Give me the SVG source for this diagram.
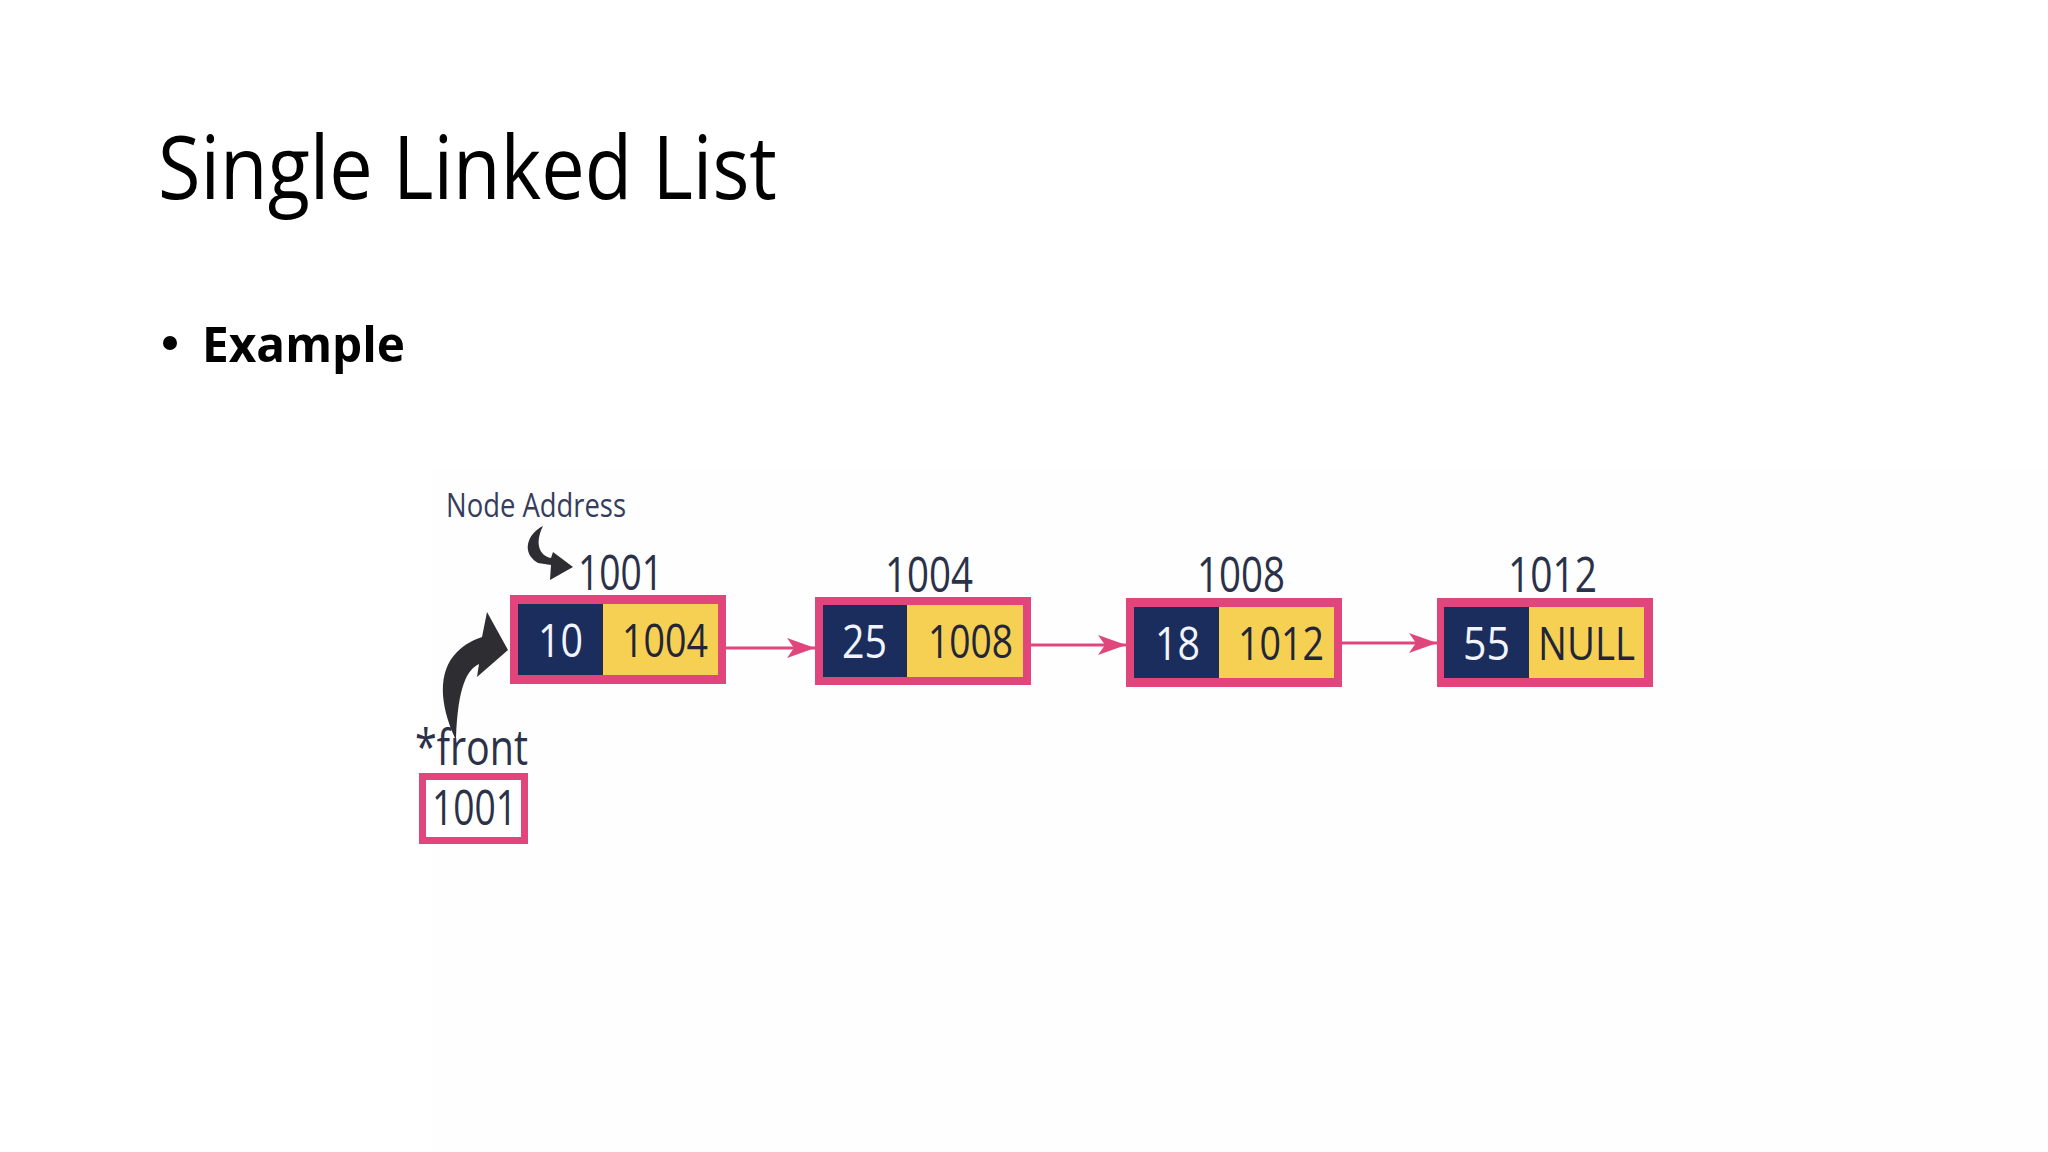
<svg xmlns="http://www.w3.org/2000/svg" width="2048" height="1152" viewBox="0 0 2048 1152">
<defs>
<style>
.t{font-family:"Open Sans","Liberation Sans",sans-serif;}
.lbl{font-family:"Open Sans","Liberation Sans",sans-serif;font-size:49px;fill:#2b3148;}
.in{font-family:"Open Sans","Liberation Sans",sans-serif;font-size:46px;}
.w{fill:#f2f5ff;}
.d{fill:#22253a;}
.pink{fill:#e0467c;}
.navy{fill:#1b2d5c;}
.yel{fill:#f6d052;}
.link{stroke:#e0467c;stroke-width:3;fill:none;}
.blk{fill:#2e2e32;}
</style>
<marker id="ah" markerUnits="userSpaceOnUse" markerWidth="30" markerHeight="22" refX="28" refY="11" orient="auto">
<path d="M0,1 L28,11 L0,21 L7,11 Z" fill="#e0467c"/>
</marker>
</defs>
<rect width="2048" height="1152" fill="#ffffff"/>
<rect x="432" y="470" width="1616" height="682" fill="#fefefe"/>

<g id="title">
<text class="t" x="158" y="199" font-size="87" fill="#000" textLength="619" lengthAdjust="spacingAndGlyphs">Single Linked List</text>
</g>
<g id="bullet">
<circle cx="170" cy="343" r="7" fill="#000"/>
<text class="t" x="202" y="362" font-size="49" font-weight="bold" fill="#000" textLength="203" lengthAdjust="spacingAndGlyphs">Example</text>
</g>

<g id="connectors">
<line class="link" x1="726" y1="648" x2="815" y2="648" marker-end="url(#ah)"/>
<line class="link" x1="1031" y1="645" x2="1126" y2="645" marker-end="url(#ah)"/>
<line class="link" x1="1342" y1="643" x2="1437" y2="643" marker-end="url(#ah)"/>
<path id="addr-arrow" class="blk" d="M543,526 C527,534 521,553 538,563 L551,565 L550,580 L573,567 L553,552 L551,558 C540,556 534,544 543,526 Z"/>
<path id="front-arrow" class="blk" d="M455,738 C440,705 437,672 457,652 C465,644 473,640 482,637 L487,612 L508,650 L477,677 L479,664 C467,670 458,686 456,738 Z"/>
</g>

<g id="node-address">
<text class="t" x="446" y="517" font-size="32" fill="#363d5c" textLength="180" lengthAdjust="spacingAndGlyphs">Node Address</text>
</g>

<g id="node1">
<text class="lbl" x="578" y="590" textLength="85" lengthAdjust="spacingAndGlyphs">1001</text>
<rect class="pink" x="510" y="595" width="216" height="89"/>
<rect class="navy" x="518" y="604" width="85" height="71"/>
<rect class="yel" x="603" y="604" width="115" height="71"/>
<text class="in w" x="538" y="657" textLength="45" lengthAdjust="spacingAndGlyphs">10</text>
<text class="in d" x="622" y="657" textLength="86" lengthAdjust="spacingAndGlyphs">1004</text>
</g>

<g id="node2">
<text class="lbl" x="885" y="592" textLength="88" lengthAdjust="spacingAndGlyphs">1004</text>
<rect class="pink" x="815" y="597" width="216" height="88"/>
<rect class="navy" x="823" y="605" width="84" height="72"/>
<rect class="yel" x="907" y="605" width="116" height="72"/>
<text class="in w" x="842" y="658" textLength="45" lengthAdjust="spacingAndGlyphs">25</text>
<text class="in d" x="928" y="658" textLength="85" lengthAdjust="spacingAndGlyphs">1008</text>
</g>

<g id="node3">
<text class="lbl" x="1197" y="592" textLength="88" lengthAdjust="spacingAndGlyphs">1008</text>
<rect class="pink" x="1126" y="598" width="216" height="89"/>
<rect class="navy" x="1134" y="607" width="85" height="71"/>
<rect class="yel" x="1219" y="607" width="115" height="71"/>
<text class="in w" x="1155" y="660" textLength="45" lengthAdjust="spacingAndGlyphs">18</text>
<text class="in d" x="1238" y="660" textLength="86" lengthAdjust="spacingAndGlyphs">1012</text>
</g>

<g id="node4">
<text class="lbl" x="1508" y="592" textLength="89" lengthAdjust="spacingAndGlyphs">1012</text>
<rect class="pink" x="1437" y="598" width="216" height="89"/>
<rect class="navy" x="1444" y="607" width="85" height="71"/>
<rect class="yel" x="1529" y="607" width="115" height="71"/>
<text class="in w" x="1463" y="660" textLength="47" lengthAdjust="spacingAndGlyphs">55</text>
<text class="in d" x="1538" y="660" textLength="97" lengthAdjust="spacingAndGlyphs">NULL</text>
</g>

<g id="front">
<text class="lbl" x="415" y="765" font-size="46" textLength="113" lengthAdjust="spacingAndGlyphs">*front</text>
<rect x="422.5" y="776.5" width="102" height="64" fill="#ffffff" stroke="#e0467c" stroke-width="7"/>
<text class="lbl" x="432" y="825" textLength="85" lengthAdjust="spacingAndGlyphs">1001</text>
</g>
</svg>
